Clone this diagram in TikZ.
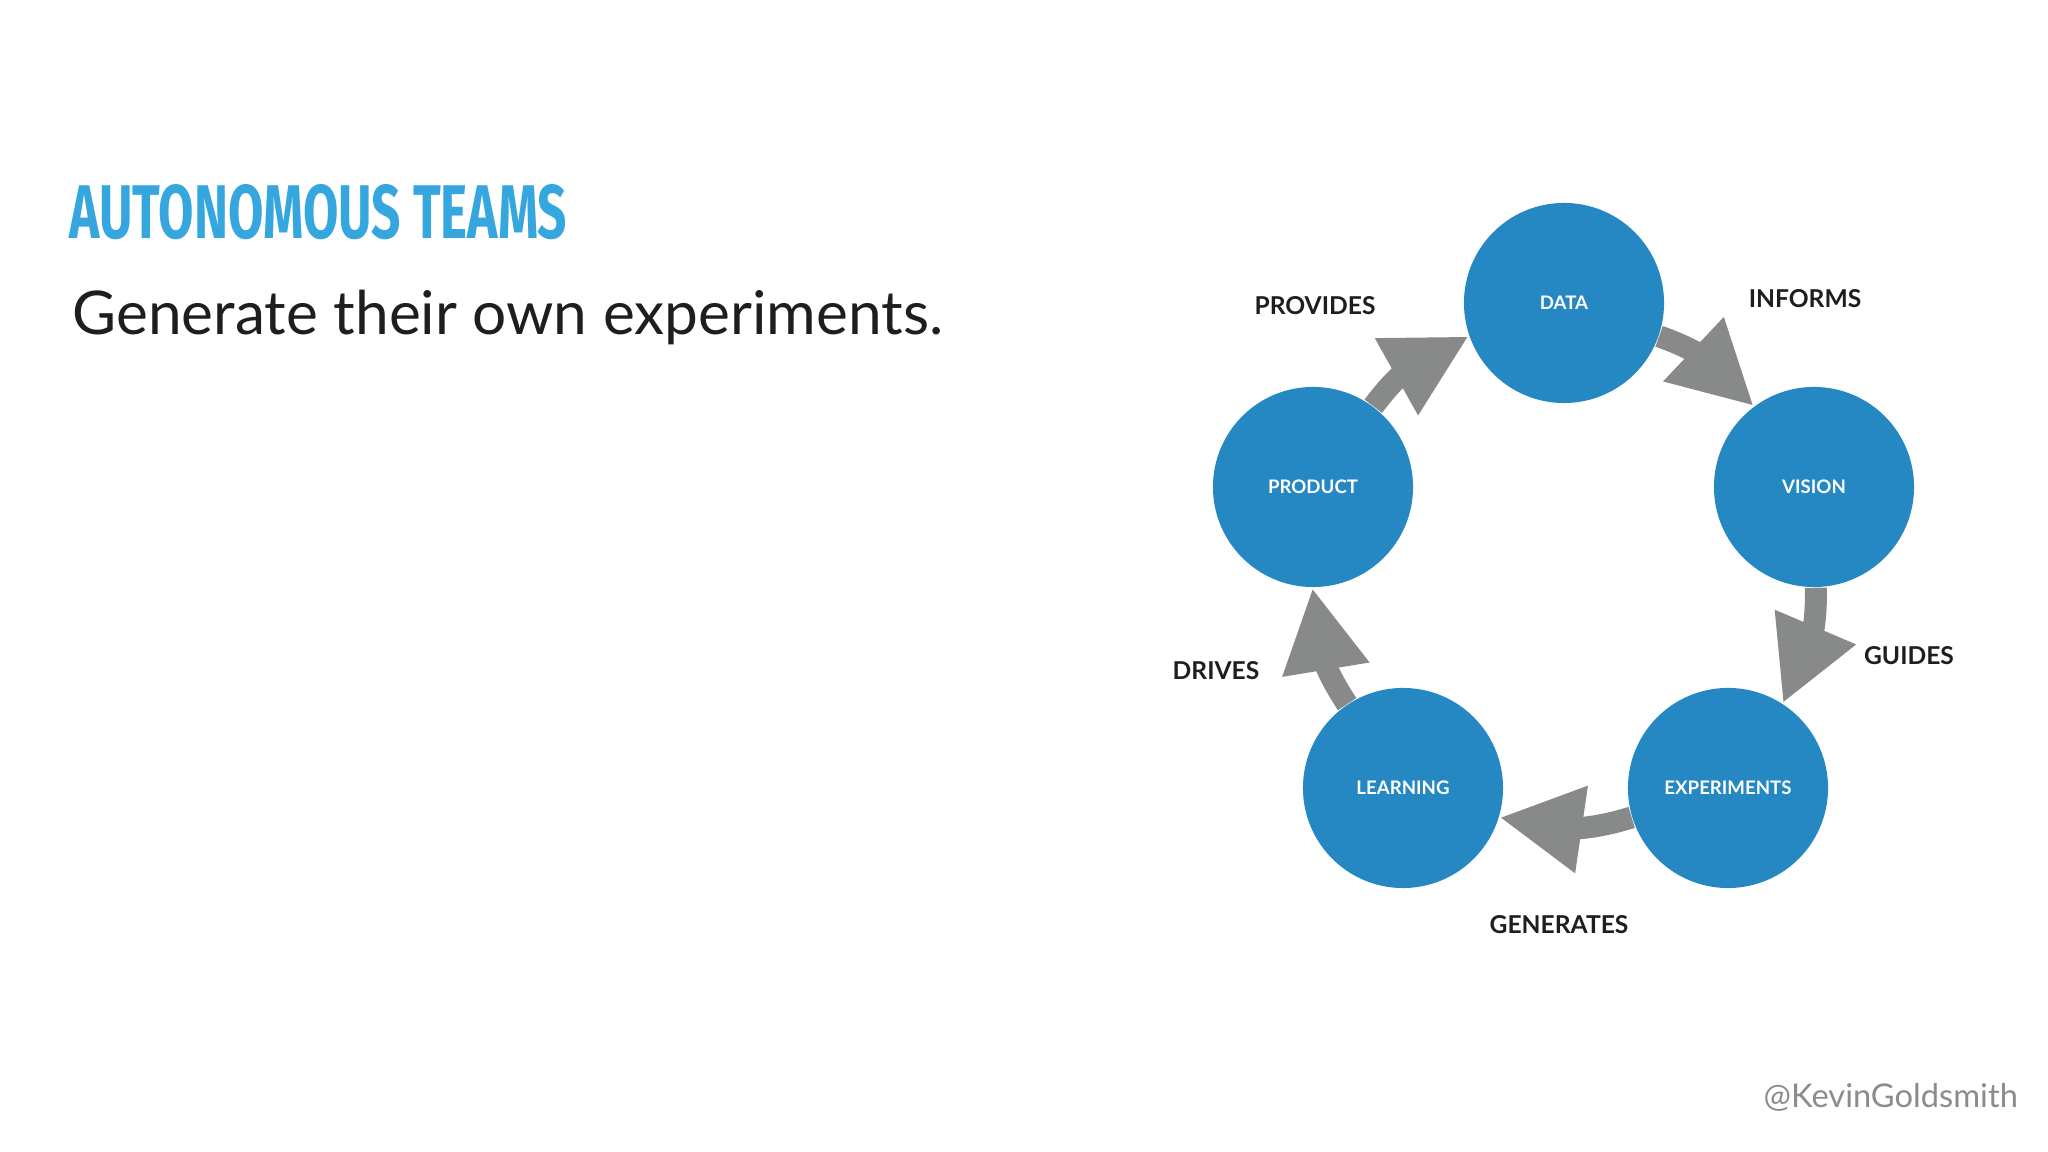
\documentclass[tikz,border=0pt]{standalone}
\usepackage{fontspec}
\setmainfont{Lato}
\newfontfamily\headfont{Fira Sans}
\usetikzlibrary{arrows.meta, bending}

\definecolor{circleblue}{HTML}{2688C3}
\definecolor{arrowgray}{HTML}{888A8A}
\definecolor{titleblue}{HTML}{35A6DE}
\definecolor{inkdark}{HTML}{1E1E1E}
\definecolor{taggray}{HTML}{8C8C8C}

\begin{document}
\begin{tikzpicture}[x=0.01cm, y=0.01cm,
    >={Triangle[width=0.82cm, length=0.83cm, flex]},
    stage/.style={circle, fill=circleblue, minimum size=2cm, inner sep=0pt,
      text=white, font=\bfseries\fontsize{5.3}{6}\selectfont},
    verb/.style={text=inkdark, font=\bfseries\fontsize{7}{8}\selectfont},
    flow/.style={->, draw=arrowgray, line width=0.22cm, bend left=17}]
  \useasboundingbox[fill=white] (0,0) rectangle (2048,1152);

  % heading
  \node[anchor=base west, inner sep=0pt, text=titleblue] (title) at (69,913)
    {\resizebox{4.97cm}{0.54cm}{\headfont\bfseries AUTONOMOUS TEAMS}};
  \node[anchor=base west, inner sep=0pt, text=inkdark] (subtitle) at (72,817)
    {\resizebox{8.70cm}{!}{Generate their own experiments.}};
  \node[anchor=base west, inner sep=0pt, text=taggray] (handle) at (1763,44)
    {\resizebox{2.54cm}{!}{@KevinGoldsmith}};

  % cycle
  \node[stage] (data) at (1564,849) {DATA};
  \node[stage] (vision) at (1814,665) {VISION};
  \node[stage] (experiments) at (1728,364) {EXPERIMENTS};
  \node[stage] (learning) at (1403,364) {LEARNING};
  \node[stage] (product) at (1313,665) {PRODUCT};

  \draw[flow] (data) to (vision);
  \draw[flow] (vision) to (experiments);
  \draw[flow] (experiments) to (learning);
  \draw[flow] (learning) to (product);
  \draw[flow] (product) to (data);

  \node[verb] (informs) at (1805,853) {INFORMS};
  \node[verb] (guides) at (1909,496) {GUIDES};
  \node[verb] (generates) at (1559,227) {GENERATES};
  \node[verb] (drives) at (1216,481) {DRIVES};
  \node[verb] (provides) at (1315,846) {PROVIDES};
\end{tikzpicture}
\end{document}
